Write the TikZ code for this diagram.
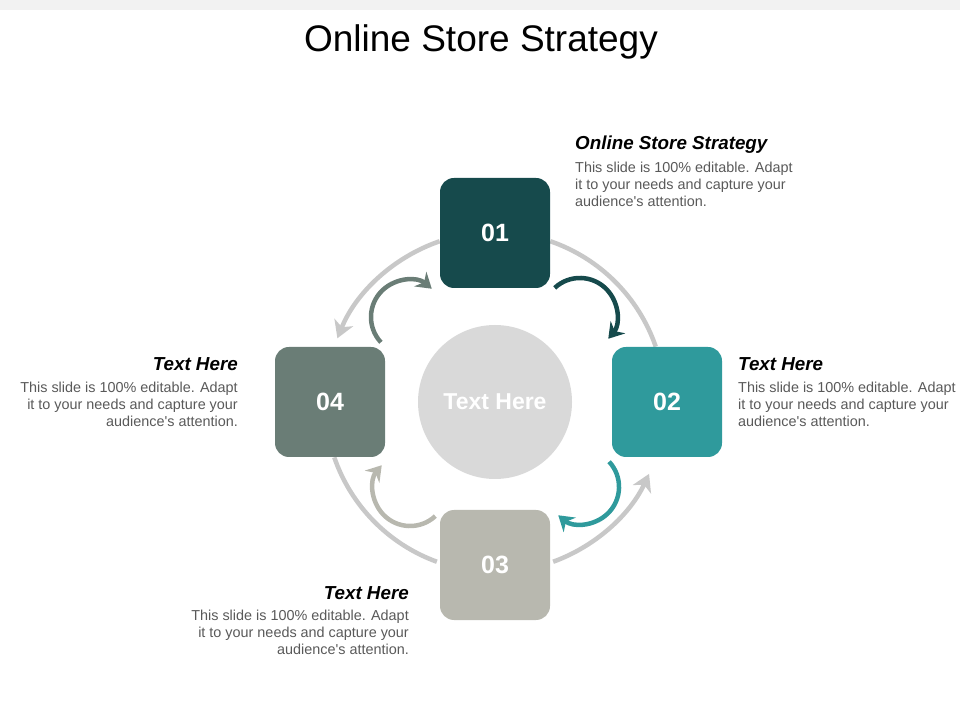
\documentclass[tikz,border=0pt]{standalone}
\usepackage{fontspec}
\setmainfont{Liberation Sans}
\usepackage{tikz}
\usetikzlibrary{arrows.meta}
\usetikzlibrary{calc}
\definecolor{stepA}{HTML}{164A4C}
\definecolor{stepB}{HTML}{2F9A9C}
\definecolor{stepC}{HTML}{B8B8AF}
\definecolor{stepD}{HTML}{6A7D76}
\definecolor{ringgray}{HTML}{C8C8C8}
\definecolor{hubgray}{HTML}{D9D9D9}
\definecolor{bodygray}{HTML}{595959}
\definecolor{bandgray}{HTML}{F2F2F2}

\begin{document}
\begin{tikzpicture}[x=1pt,y=1pt,
		numbox/.style={rounded corners=14pt,minimum size=110pt,inner sep=0pt,text=white,font=\fontsize{25}{25}\selectfont\bfseries},
		ringarc/.style={draw=ringgray,line width=4.5pt},
		turn/.style={line width=4.5pt,-{Stealth[length=15pt,width=19pt,inset=5pt]}},
		headtext/.style={font=\fontsize{18.8}{18.8}\selectfont\bfseries\itshape,inner sep=0pt},
		bodytext/.style={font=\fontsize{14.4}{17.3}\selectfont,text=bodygray,inner sep=0pt}]
		\useasboundingbox (0, 0) rectangle (960, 720);
		\fill [bandgray] (0, 710) rectangle (960, 720);
		\node [font=\fontsize{37}{37}\selectfont,anchor=base] (title) at (481, 668) {Online Store Strategy};
		\coordinate (c) at (495, 318);
		\draw [ringarc,-{Stealth[length=17pt,width=20pt,inset=5pt]}] ($(c)+(109:170)$) arc [radius=170, start angle=109, end angle=158];
		\draw [ringarc] ($(c)+(71:170)$) arc [radius=170, start angle=71, end angle=19];
		\draw [ringarc,-{Stealth[length=17pt,width=20pt,inset=5pt]}] ($(c)+(-70:170)$) arc [radius=170, start angle=-70, end angle=-25];
		\draw [ringarc] ($(c)+(-110:170)$) arc [radius=170, start angle=-110, end angle=-161];
		\node [circle,fill=hubgray,minimum size=154pt,text=white,font=\fontsize{23}{23}\selectfont\bfseries] (hub) at (c) {Text Here};
		\node [numbox,fill=stepA] (s1) at (495, 487) {01};
		\node [numbox,fill=stepB] (s2) at (667, 318) {02};
		\node [numbox,fill=stepC] (s3) at (495, 155) {03};
		\node [numbox,fill=stepD] (s4) at (330, 318) {04};
		\foreach \k/\col in {0/stepA,1/stepB,2/stepC,3/stepD}
			\draw [turn,\col] ($(c)+({45.7-90*\k}:121.6)+({133-90*\k}:37)$) arc [radius=37, start angle={133-90*\k}, end angle={-40-90*\k}];
		\node [headtext,anchor=base west] (h1) at (575, 570) {Online Store Strategy};
		\node [bodytext,anchor=north west,align=left] (t1) at (575, 558.5) {This slide is 100\% editable. Adapt\\it to your needs and capture your\\audience\textquotesingle s attention.};
		\node [headtext,anchor=base west] (h2) at (738, 349) {Text Here};
		\node [bodytext,anchor=north west,align=left] (t2) at (738, 338.5) {This slide is 100\% editable. Adapt\\it to your needs and capture your\\audience\textquotesingle s attention.};
		\node [headtext,anchor=base east] (h3) at (409, 121) {Text Here};
		\node [bodytext,anchor=north east,align=right] (t3) at (409, 110.5) {This slide is 100\% editable. Adapt\\it to your needs and capture your\\audience\textquotesingle s attention.};
		\node [headtext,anchor=base east] (h4) at (238, 349) {Text Here};
		\node [bodytext,anchor=north east,align=right] (t4) at (238, 338.5) {This slide is 100\% editable. Adapt\\it to your needs and capture your\\audience\textquotesingle s attention.};
	\end{tikzpicture}
\end{document}
